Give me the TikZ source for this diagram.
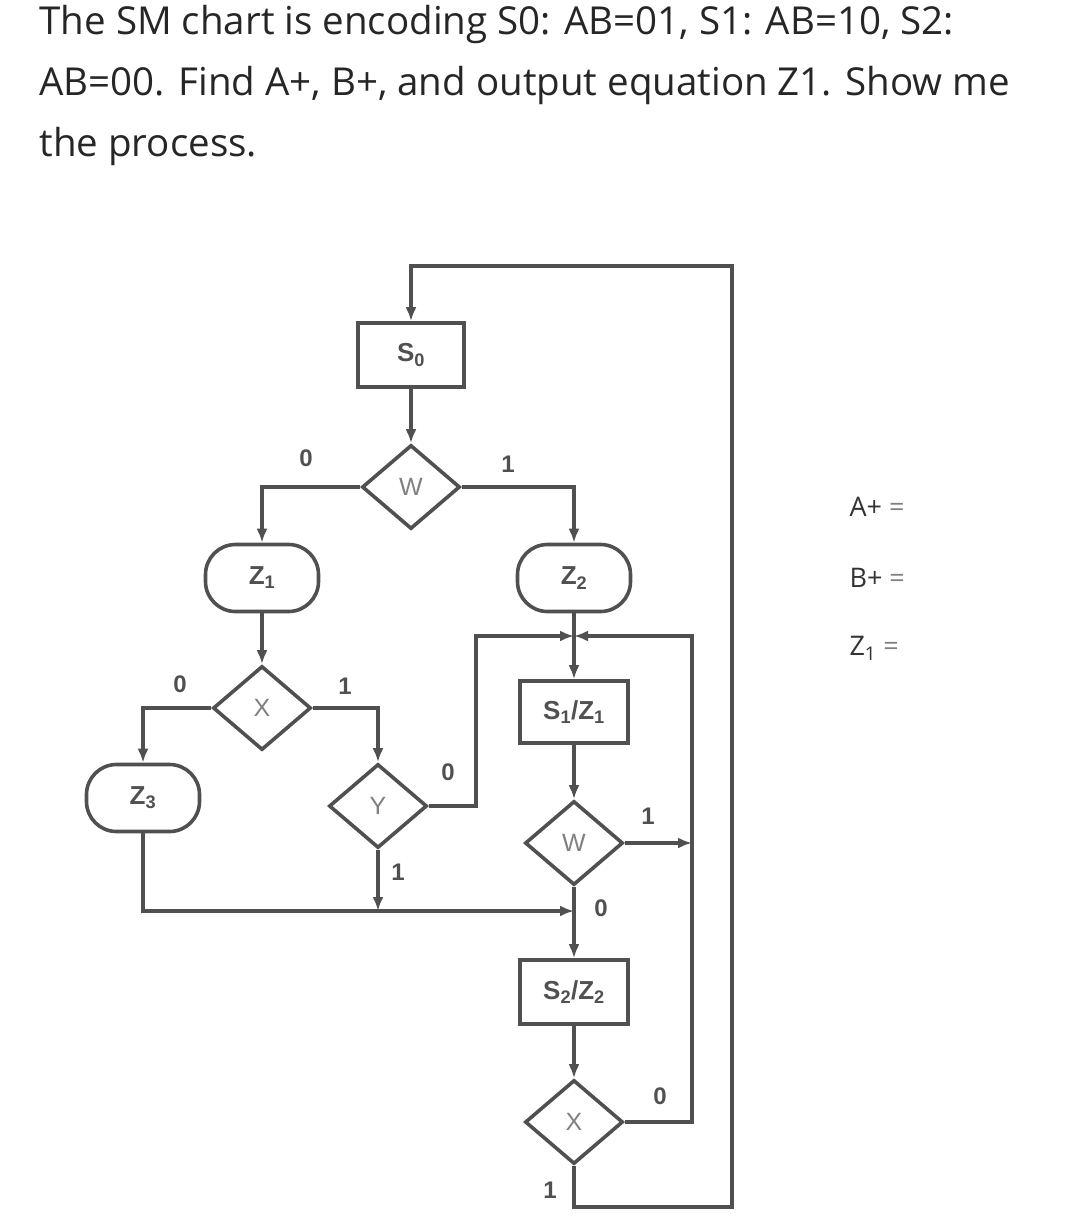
\documentclass[tikz,border=0pt]{standalone}
\usepackage{fontspec}
\setmainfont{Open Sans}
\newfontfamily\lbl{Liberation Sans}
\usetikzlibrary{shapes.geometric,arrows.meta}
\definecolor{ln}{HTML}{505050}
\begin{document}
\begin{tikzpicture}[x=1pt,y=-1pt,
  line/.style={draw=ln,line width=3.6pt},
  arr/.style={line,-{Latex[length=14pt,width=11pt]}},
  st/.style={draw=ln,line width=3.6pt,minimum width=106pt,minimum height=64pt,font=\lbl\bfseries\fontsize{26}{26}\selectfont,text=ln},
  cond/.style={draw=ln,line width=3.6pt,diamond,minimum width=98pt,minimum height=84pt,inner sep=0pt,aspect=1.15,font=\lbl\fontsize{25}{25}\selectfont,text=gray},
  outbox/.style={draw=ln,line width=3.6pt,rounded corners=30pt,minimum width=113pt,minimum height=67pt,font=\lbl\bfseries\fontsize{26}{26}\selectfont,text=ln},
  lab/.style={font=\lbl\bfseries\fontsize{24}{24}\selectfont,text=ln},
  ttl/.style={anchor=west,font=\fontsize{38.5}{38.5}\selectfont,text=black!85}]
\useasboundingbox (0,0) rectangle (1080,1229);
\node[ttl] (t1) at (36,24) {The SM chart is encoding S0: AB=01, S1: AB=10, S2:};
\node[ttl] (t2) at (36,85) {AB=00. Find A+, B+, and output equation Z1. Show me};
\node[ttl] (t3) at (36,146) {the process.};

\node[st] (s0) at (411,355) {S\textsubscript{0}};
\node[cond] (w0) at (411,487) {W};
\node[outbox] (z1) at (262,578) {Z\textsubscript{1}};
\node[outbox] (z2) at (574,578) {Z\textsubscript{2}};
\node[cond] (x0) at (262,708) {X};
\node[st,minimum width=108pt,minimum height=62pt] (s1) at (574,712) {S\textsubscript{1}/Z\textsubscript{1}};
\node[outbox] (z3) at (143,798) {Z\textsubscript{3}};
\node[cond] (y0) at (378,806) {Y};
\node[cond] (w1) at (574,843) {W};
\node[st,minimum width=108pt,minimum height=64pt] (s2) at (574,992) {S\textsubscript{2}/Z\textsubscript{2}};
\node[cond] (x1) at (574,1122) {X};

\coordinate (j1) at (574,636);
\coordinate (j2) at (574,911);
\coordinate (jy) at (378,911);

\draw[arr] (732,620) |- (411,266) -- (s0);
\draw[arr] (s0) -- (w0);
\draw[arr] (w0.west) -| (z1);
\draw[arr] (w0.east) -| (z2);
\draw[arr] (z1) -- (x0);
\draw[line] (z2) -- (j1);
\draw[arr] (j1) -- (s1);
\draw[arr] (x0.west) -| (z3);
\draw[arr] (x0.east) -| (y0);
\draw[arr] (y0.east) -| (476,636) -- (j1);
\draw[arr] (y0.south) -- (jy);
\draw[arr] (z3.south) |- (j2);
\draw[arr] (s1) -- (w1);
\draw[arr] (w1.east) -- (692,843);
\draw[arr] (692,843) |- (j1);
\draw[line] (w1.south) -- (j2);
\draw[arr] (j2) -- (s2);
\draw[arr] (s2) -- (x1);
\draw[line] (x1.east) -| (692,843);
\draw[line] (x1.south) |- (732,1207) -- (732,600);

\node[lab] (l1) at (306,458) {0};
\node[lab] (l2) at (508,464) {1};
\node[lab] (l3) at (180,684) {0};
\node[lab] (l4) at (345,686) {1};
\node[lab] (l5) at (448,772) {0};
\node[lab] (l6) at (398,872) {1};
\node[lab] (l7) at (648,816) {1};
\node[lab] (l8) at (601,908) {0};
\node[lab] (l9) at (660,1096) {0};
\node[lab] (l10) at (550,1190) {1};

\node[anchor=west,font=\fontsize{27}{27}\selectfont,text=black!80] (a) at (846,507) {A+ \textcolor{gray}{=}};
\node[anchor=west,font=\fontsize{27}{27}\selectfont,text=black!80] (b) at (846,578) {B+ \textcolor{gray}{=}};
\node[anchor=west,font=\fontsize{27}{27}\selectfont,text=black!80] (c) at (846,648) {Z\textsubscript{1} \textcolor{gray}{=}};
\end{tikzpicture}
\end{document}
